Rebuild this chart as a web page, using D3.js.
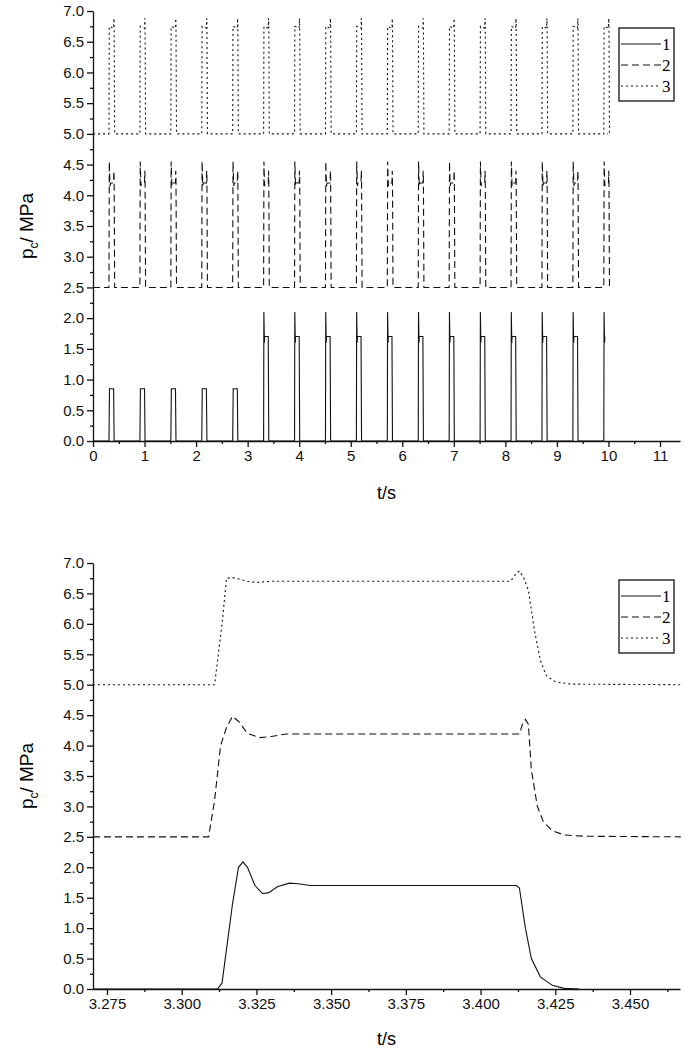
<!DOCTYPE html>
<html><head><meta charset="utf-8">
<script src="https://cdn.jsdelivr.net/npm/d3@7"></script>
<style>body{margin:0;background:#fff}</style></head>
<body><svg id="c" width="685" height="1056"></svg>
<script>
// ---- data ----
const seriesNames = ["1","2","3"];
const pulseStarts = [0.31,0.91,1.51,2.11,2.71,3.31,3.91,4.51,5.11,5.71,6.31,6.91,7.51,8.11,8.71,9.31,9.91];
const lowPulse1 = [[0,0],[0.01,0.85],[0.09,0.85],[0.1,0]];
const highPulse1 = [[0,0],[0.005,2.1],[0.015,1.6],[0.02,1.7],[0.09,1.7],[0.1,0]];
const pulse2 = [[0,2.5],[0.006,4.55],[0.02,4.15],[0.03,4.2],[0.09,4.2],[0.095,4.4],[0.1,4.3],[0.11,2.5]];
const pulse3 = [[0,5],[0.006,6.75],[0.09,6.72],[0.095,6.88],[0.1,6.8],[0.11,5]];
const detail1 = [[3.2703,0],[3.312,0],[3.3135,0.1],[3.317,1.4],[3.319,2.0],[3.3205,2.09],[3.322,2.0],[3.3245,1.7],[3.327,1.57],[3.329,1.58],[3.332,1.68],[3.336,1.74],[3.339,1.73],[3.343,1.70],[3.35,1.70],[3.412,1.70],[3.413,1.66],[3.415,1.0],[3.417,0.5],[3.42,0.2],[3.424,0.06],[3.428,0.01],[3.433,0]];
const detail2 = [[3.2703,2.5],[3.309,2.5],[3.311,3.1],[3.313,4.0],[3.315,4.3],[3.317,4.48],[3.319,4.4],[3.322,4.2],[3.326,4.13],[3.33,4.15],[3.335,4.19],[3.4,4.19],[3.413,4.19],[3.414,4.35],[3.415,4.43],[3.416,4.35],[3.417,3.6],[3.419,3.0],[3.421,2.75],[3.424,2.6],[3.428,2.53],[3.435,2.51],[3.467,2.5]];
const detail3 = [[3.2703,5],[3.311,5],[3.3135,6.0],[3.315,6.75],[3.317,6.76],[3.322,6.7],[3.325,6.68],[3.33,6.7],[3.41,6.7],[3.412,6.83],[3.413,6.87],[3.4145,6.75],[3.416,6.55],[3.418,5.9],[3.42,5.4],[3.422,5.15],[3.425,5.05],[3.43,5.01],[3.467,5]];
const xTicksTop = [0,1,2,3,4,5,6,7,8,9,10,11];
const xTicksBottom = [3.275,3.300,3.325,3.350,3.375,3.400,3.425,3.450];
const yTicks = [0,0.5,1,1.5,2,2.5,3,3.5,4,4.5,5,5.5,6,6.5,7];

function buildTrain(base, getShape, end){
  const pts=[[0,base]];
  pulseStarts.forEach((s,i)=>{ getShape(i).forEach(p=>pts.push([s+p[0],p[1]])); });
  pts.push([end,base]);
  return pts;
}
const top1 = buildTrain(0,i=>i<5?lowPulse1:highPulse1,9.91+0.1);
const top2 = buildTrain(2.5,()=>pulse2,9.97);
const top3 = buildTrain(5,()=>pulse3,9.97);
[top1,top2,top3].forEach(a=>{ while(a.length && a[a.length-1][0]>9.97) a.pop(); });

const svg=d3.select("#c");
const dashes=[null,"7,4","2,3"];
const font="Arial, 'Liberation Sans', sans-serif";

function panel(opt){
  const x=d3.scaleLinear().domain(opt.xd).range([93,680]);
  const y=d3.scaleLinear().domain([0,7]).range([opt.y0,opt.y7]);
  const g=svg.append("g");
  const line=d3.line().x(d=>x(d[0])).y(d=>y(d[1]));
  opt.series.forEach((s,i)=>{
    g.append("path").datum(s).attr("d",line).attr("fill","none").attr("stroke","#111")
     .attr("stroke-width",1.1).attr("stroke-dasharray",dashes[i]);
  });
  g.append("g").attr("transform",`translate(0,${opt.y0})`)
    .call(d3.axisBottom(x).tickValues(opt.xt).tickFormat(opt.fmt).tickSize(6).tickSizeOuter(0));
  const minor=[];
  for(let k=0;k<opt.xt.length;k++){const m=opt.xt[k]+opt.step/2; if(x(m)<=680)minor.push(m); const mm=opt.xt[0]-opt.step/2; if(k==0&&x(mm)>=93)minor.push(mm);}
  g.append("g").attr("transform",`translate(0,${opt.y0})`).call(d3.axisBottom(x).tickValues(minor).tickFormat("").tickSize(3)).select(".domain").remove();
  g.append("g").attr("transform","translate(93,0)")
    .call(d3.axisLeft(y).tickValues(yTicks).tickFormat(d3.format(".1f")).tickSize(6).tickSizeOuter(0));
  g.append("g").attr("transform","translate(93,0)")
    .call(d3.axisLeft(y).tickValues(d3.range(0.25,7,0.5)).tickFormat("").tickSize(3)).select(".domain").remove();
  g.selectAll(".tick text").attr("font-family",font).attr("font-size",15).attr("fill","#111");
  g.selectAll("path.domain,.tick line").attr("stroke","#111").attr("stroke-width",1.3);
  g.append("text").attr("x",(93+680)/2).attr("y",opt.y0+opt.tly).attr("text-anchor","middle")
    .attr("font-family",font).attr("font-size",18).text("t/s");
  const yl=g.append("text").attr("transform",`translate(33,${(opt.y0+opt.y7)/2}) rotate(-90)`)
    .attr("text-anchor","middle").attr("font-family",font).attr("font-size",19);
  yl.append("tspan").text("p");
  yl.append("tspan").attr("font-size",12).attr("dy",5).text("c");
  yl.append("tspan").attr("dy",-5).text("/ MPa");
  const lg=g.append("g").attr("transform",`translate(619,${opt.ly})`);
  lg.append("rect").attr("width",55).attr("height",73).attr("fill","#fff").attr("stroke","#111").attr("stroke-width",1.3);
  seriesNames.forEach((n,i)=>{
    const yy=16+i*21;
    lg.append("line").attr("x1",2).attr("x2",42).attr("y1",yy).attr("y2",yy).attr("stroke","#111").attr("stroke-width",1.1).attr("stroke-dasharray",dashes[i]);
    lg.append("text").attr("x",43).attr("y",yy+6).attr("font-family","'Liberation Serif', serif").attr("font-size",17).text(n);
  });
}
panel({xd:[0,(680-93)/((660-93)/11)],xt:xTicksTop,step:1,fmt:d3.format("d"),y0:441,y7:11,ly:28,tly:58,series:[top1,top2,top3]});
panel({xd:[3.275-(107-93)*0.175/523,3.275+(680-107)*0.175/523],xt:xTicksBottom,step:0.025,fmt:d3.format(".3f"),y0:989,y7:563,ly:580,tly:56,series:[detail1,detail2,detail3]});
</script></body></html>
